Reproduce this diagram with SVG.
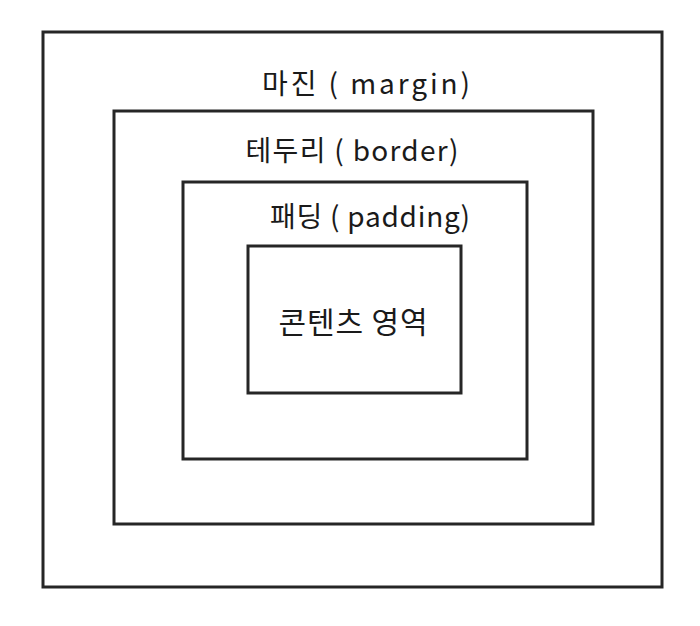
<svg xmlns="http://www.w3.org/2000/svg" width="700" height="626" viewBox="0 0 700 626">
<style>
.box{fill:none;stroke:#262626;stroke-width:3}
.lbl{font-family:"Noto Sans CJK KR","Noto Sans",sans-serif;font-size:28px;fill:#1a1a1a;text-anchor:middle}
</style>
<rect width="700" height="626" fill="#ffffff"/>
<g id="margin">
<rect class="box" x="43" y="32" width="619" height="555"/>
<text class="lbl" x="366" y="94" textLength="208" lengthAdjust="spacing">마진 ( margin)</text>
</g>
<g id="border">
<rect class="box" x="114" y="111" width="479" height="413"/>
<text class="lbl" x="352" y="161" textLength="213" lengthAdjust="spacing">테두리 ( border)</text>
</g>
<g id="padding">
<rect class="box" x="183" y="182" width="344" height="277"/>
<text class="lbl" x="370" y="227" textLength="200" lengthAdjust="spacing">패딩 ( padding)</text>
</g>
<g id="content">
<rect class="box" x="248" y="246" width="213" height="147"/>
<text class="lbl" x="353" y="333" textLength="149" lengthAdjust="spacing" style="font-size:30px">콘텐츠 영역</text>
</g>
<g id="connectors"></g>
</svg>
